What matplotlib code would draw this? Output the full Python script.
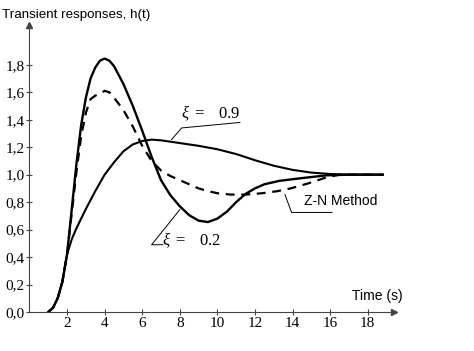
import numpy as np
import matplotlib.pyplot as plt

plt.rcParams['mathtext.fontset'] = 'custom'
plt.rcParams['mathtext.rm'] = 'Liberation Serif'
plt.rcParams['mathtext.it'] = 'Liberation Serif:italic'

# (t in s, h(t))
t_02 = [1.0, 1.25, 1.5, 1.75, 2.0, 2.25, 2.5, 2.75, 3.0, 3.25, 3.5, 3.75, 4.0,
        4.25, 4.5, 5.0, 5.5, 6.0, 6.5, 7.0, 7.5, 8.0, 8.5, 9.0, 9.5, 10.0,
        10.5, 11.0, 11.5, 12.0, 12.5, 13.3, 14.5, 15.8, 17.0, 18.8]
h_02 = [0.0, 0.03, 0.10, 0.22, 0.42, 0.75, 1.08, 1.36, 1.56, 1.70, 1.78, 1.83, 1.845,
        1.83, 1.79, 1.66, 1.50, 1.32, 1.13, 0.96, 0.85, 0.77, 0.705, 0.665, 0.655, 0.68,
        0.73, 0.80, 0.86, 0.90, 0.93, 0.955, 0.975, 0.995, 1.0, 1.0]

t_zn = [1.0, 1.25, 1.5, 1.75, 2.0, 2.25, 2.5, 2.75, 3.0, 3.25, 3.5, 3.75, 4.0,
        4.25, 4.5, 5.0, 5.5, 6.0, 6.5, 7.0, 7.5, 8.0, 8.5, 9.0, 9.5, 10.0,
        10.7, 11.5, 12.4, 13.2, 13.9, 14.8, 15.8, 16.5, 18.8]
h_zn = [0.0, 0.03, 0.10, 0.22, 0.42, 0.72, 1.02, 1.28, 1.45, 1.55, 1.575, 1.59, 1.61,
        1.60, 1.56, 1.47, 1.35, 1.21, 1.10, 1.03, 0.99, 0.96, 0.93, 0.90, 0.88, 0.865,
        0.855, 0.855, 0.865, 0.88, 0.90, 0.935, 0.98, 1.0, 1.0]

t_09 = [1.0, 1.25, 1.5, 1.75, 2.0, 2.25, 2.5, 2.75, 3.0, 3.5, 4.0, 4.5, 5.0,
        5.5, 6.0, 6.5, 7.0, 7.5, 8.0, 9.0, 10.0, 11.0, 12.0, 13.0, 14.0,
        15.0, 16.0, 17.0, 18.8]
h_09 = [0.0, 0.03, 0.10, 0.22, 0.42, 0.53, 0.61, 0.68, 0.75, 0.88, 1.0, 1.09, 1.17,
        1.22, 1.245, 1.255, 1.25, 1.24, 1.23, 1.21, 1.185, 1.15, 1.105, 1.065, 1.035,
        1.015, 1.005, 1.0, 1.0]

x_ticks = [2, 4, 6, 8, 10, 12, 14, 16, 18]
y_ticks = [0.0, 0.2, 0.4, 0.6, 0.8, 1.0, 1.2, 1.4, 1.6, 1.8]
y_labels = [f'{v:.1f}'.replace('.', ',') for v in y_ticks]

fig = plt.figure(figsize=(4.74, 3.51), dpi=100)
ax = fig.add_axes([0.0622, 0.111, 0.769, 0.818])

ax.plot(t_02, h_02, color='black', lw=1.7)
ax.plot(t_09, h_09, color='black', lw=1.5)
ax.plot(t_zn, h_zn, color='black', lw=1.6, dashes=(4, 3))

ax.set_xlim(0, 19.4)
ax.set_ylim(0, 2.09)
for s in ['top', 'right']:
    ax.spines[s].set_visible(False)
for s in ['left', 'bottom']:
    ax.spines[s].set_linewidth(0.8)
    ax.spines[s].set_color('#444444')

ax.plot(1, 0, '>', color='#444444', ms=4, transform=ax.transAxes, clip_on=False)
ax.plot(0, 1, '^', color='#444444', ms=4, transform=ax.transAxes, clip_on=False)

ax.set_xticks(x_ticks)
ax.set_xticklabels([str(v) for v in x_ticks], family='Liberation Serif', fontsize=11)
ax.set_yticks(y_ticks)
ax.set_yticklabels(y_labels, family='Liberation Serif', fontsize=11)
ax.tick_params(direction='inout', length=5, width=0.8, color='#444444')
ax.tick_params(axis='y', pad=1)
ax.tick_params(axis='x', pad=1)

fig.text(0.004, 0.956, 'Transient responses, h(t)', family='Liberation Sans',
         fontsize=9.6, va='center', ha='left')
ax.text(18.5, 0.117, 'Time (s)', family='Liberation Sans', fontsize=10,
        ha='center', va='center')
ax.text(16.57, 0.81, 'Z-N Method', family='Liberation Sans', fontsize=10,
        ha='center', va='center')
ax.text(9.65, 1.45, r'$\xi\ =\quad 0.9$', fontsize=12, ha='center', va='center')
ax.text(8.64, 0.52, r'$\xi\ =\quad 0.2$', fontsize=12, ha='center', va='center')

# leader lines
ax.plot([7.56, 8.1, 11.2], [1.255, 1.34, 1.38], color='black', lw=0.7)
ax.plot([8.0, 6.5, 7.1], [0.745, 0.49, 0.49], color='black', lw=0.7)
ax.plot([13.6, 13.95, 16.1], [0.854, 0.725, 0.725], color='black', lw=0.7)

fig.savefig('out.png', dpi=100)
